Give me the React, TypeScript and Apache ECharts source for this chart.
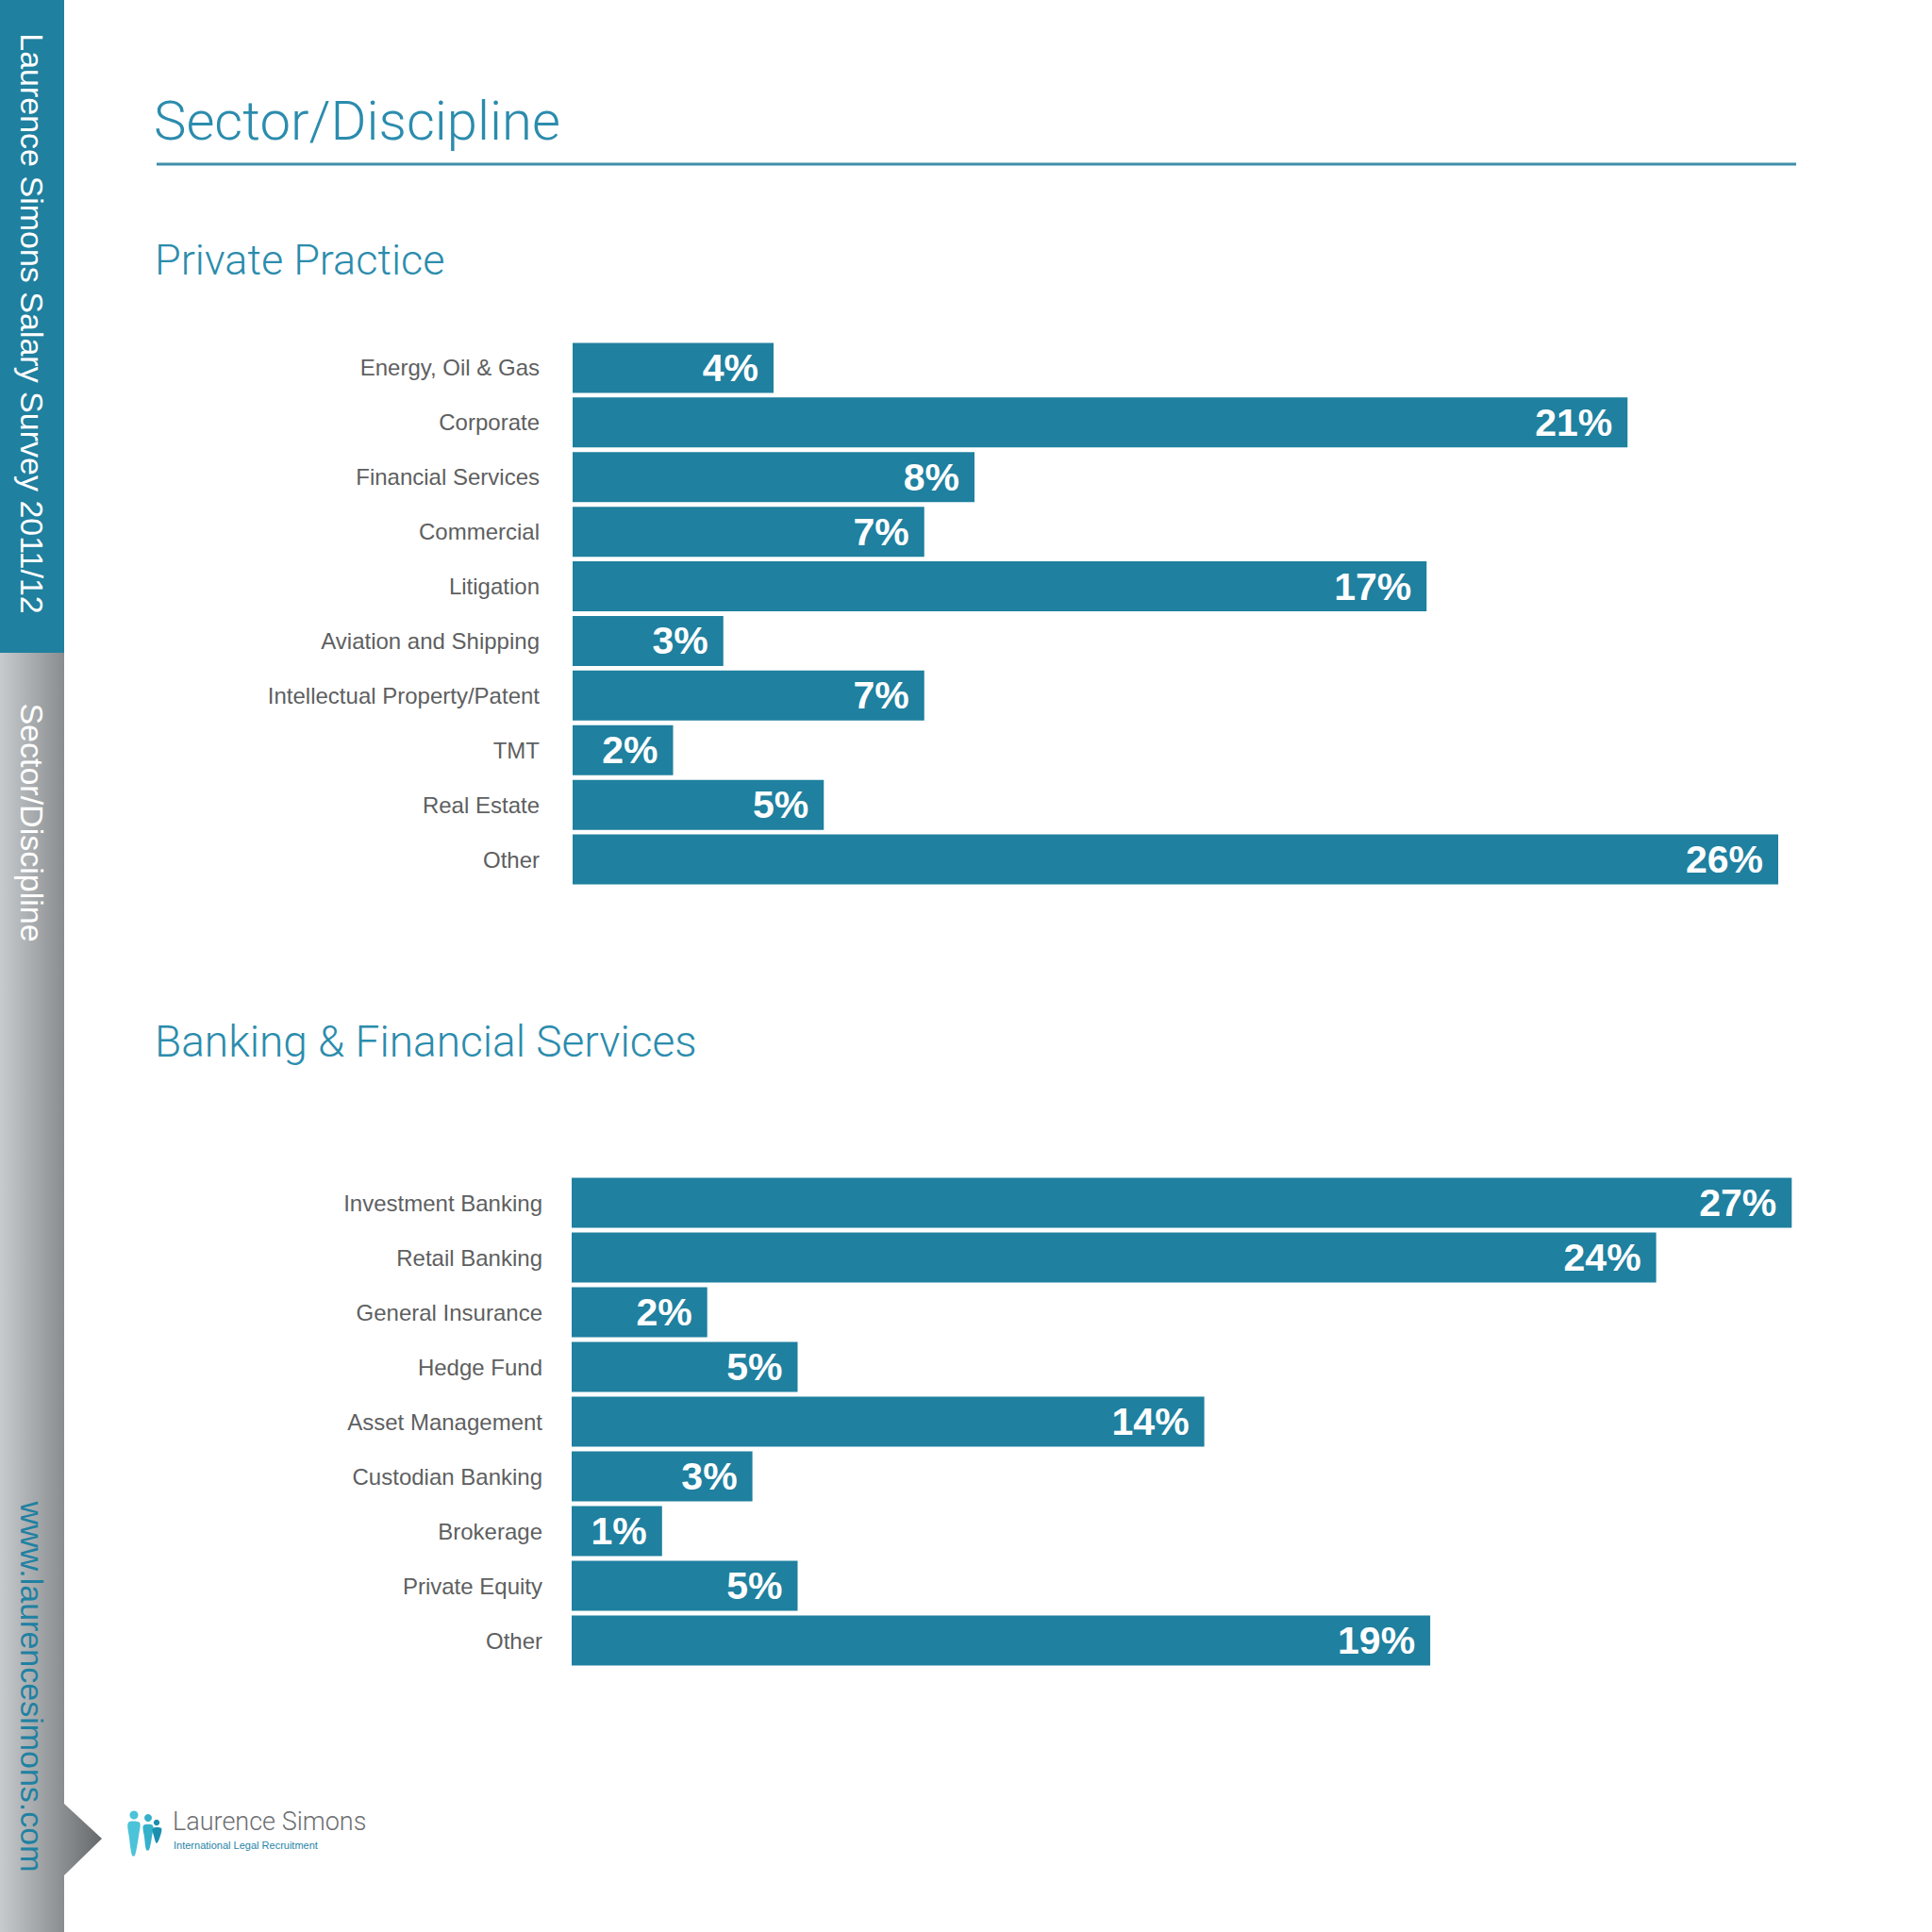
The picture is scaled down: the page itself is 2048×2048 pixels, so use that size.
import React, { useEffect, useRef } from "react";
import * as echarts from "echarts";

const ppCategories = [
  "Energy, Oil & Gas",
  "Corporate",
  "Financial Services",
  "Commercial",
  "Litigation",
  "Aviation and Shipping",
  "Intellectual Property/Patent",
  "TMT",
  "Real Estate",
  "Other",
];
const ppBarValues = [4, 21, 8, 7, 17, 3, 7, 2, 5, 24];
const ppLabels = ["4%", "21%", "8%", "7%", "17%", "3%", "7%", "2%", "5%", "26%"];

const bfCategories = [
  "Investment Banking",
  "Retail Banking",
  "General Insurance",
  "Hedge Fund",
  "Asset Management",
  "Custodian Banking",
  "Brokerage",
  "Private Equity",
  "Other",
];
const bfBarValues = [27, 24, 3, 5, 14, 4, 2, 5, 19];
const bfLabels = ["27%", "24%", "2%", "5%", "14%", "3%", "1%", "5%", "19%"];

const pageTitle = "Sector/Discipline";
const section1 = "Private Practice";
const section2 = "Banking & Financial Services";
const sideTitle = "Laurence Simons Salary Survey 2011/12";
const sideSection = "Sector/Discipline";
const sideUrl = "www.laurencesimons.com";
const logoName = "Laurence Simons";
const logoTag = "International Legal Recruitment";

const TEAL = "#1f809f";
const TITLE_TEAL = "#2b8cad";
const LABEL_GREY = "#5e5f61";
const SANS = "'Liberation Sans', Arial, Helvetica, sans-serif";
const LIGHT = "Roboto, 'Liberation Sans', sans-serif";

export default function App() {
  const ref = useRef<HTMLDivElement>(null);

  useEffect(() => {
    if (!ref.current) return;
    const chart = echarts.init(ref.current, null, { renderer: "svg" });

    const greyGrad = new echarts.graphic.LinearGradient(0, 0, 1, 0, [
      { offset: 0, color: "#c7cbcd" },
      { offset: 1, color: "#8a8d8f" },
    ]);
    const triGrad = new echarts.graphic.LinearGradient(0, 0, 1, 0, [
      { offset: 0, color: "#8a8d8f" },
      { offset: 1, color: "#66696b" },
    ]);

    const makeLabel = (labels: string[]) => ({
      show: true,
      position: "insideRight",
      distance: 16,
      color: "#ffffff",
      fontFamily: SANS,
      fontWeight: "bold",
      fontSize: 41,
      formatter: (p: any) => labels[p.dataIndex],
    });

    const option: any = {
      animation: false,
      backgroundColor: "#ffffff",
      grid: [
        { left: 607, top: 361, width: 26 * 53.25, height: 579 },
        { left: 606, top: 1246, width: 30 * 47.9, height: 522 },
      ],
      xAxis: [
        { type: "value", gridIndex: 0, min: 0, max: 26, show: false },
        { type: "value", gridIndex: 1, min: 0, max: 30, show: false },
      ],
      yAxis: [
        {
          type: "category",
          gridIndex: 0,
          data: ppCategories,
          inverse: true,
          axisLine: { show: false },
          axisTick: { show: false },
          axisLabel: {
            margin: 35,
            fontSize: 24,
            color: LABEL_GREY,
            fontFamily: SANS,
          },
        },
        {
          type: "category",
          gridIndex: 1,
          data: bfCategories,
          inverse: true,
          axisLine: { show: false },
          axisTick: { show: false },
          axisLabel: {
            margin: 31,
            fontSize: 24,
            color: LABEL_GREY,
            fontFamily: SANS,
          },
        },
      ],
      series: [
        {
          type: "bar",
          xAxisIndex: 0,
          yAxisIndex: 0,
          data: ppBarValues,
          barWidth: 53,
          itemStyle: { color: TEAL },
          label: makeLabel(ppLabels),
        },
        {
          type: "bar",
          xAxisIndex: 1,
          yAxisIndex: 1,
          data: bfBarValues,
          barWidth: 53,
          itemStyle: { color: TEAL },
          label: makeLabel(bfLabels),
        },
      ],
      graphic: [
        // sidebar
        { type: "rect", shape: { x: 0, y: 0, width: 68, height: 692 }, style: { fill: TEAL } },
        { type: "rect", shape: { x: 0, y: 692, width: 68, height: 1356 }, style: { fill: greyGrad } },
        {
          type: "polygon",
          shape: { points: [[68, 1912], [108, 1949], [68, 1988]] },
          style: { fill: triGrad },
        },
        {
          type: "text",
          x: 34,
          y: 343,
          rotation: -Math.PI / 2,
          style: {
            text: sideTitle,
            fill: "#ffffff",
            font: `34px ${SANS}`,
            textAlign: "center",
            textVerticalAlign: "middle",
          },
        },
        {
          type: "text",
          x: 34,
          y: 872,
          rotation: -Math.PI / 2,
          style: {
            text: sideSection,
            fill: "#ffffff",
            font: `34px ${SANS}`,
            textAlign: "center",
            textVerticalAlign: "middle",
          },
        },
        {
          type: "text",
          x: 34,
          y: 1788,
          rotation: -Math.PI / 2,
          style: {
            text: sideUrl,
            fill: "#1f81a2",
            font: `34px ${SANS}`,
            textAlign: "center",
            textVerticalAlign: "middle",
          },
        },
        // headings
        {
          type: "text",
          x: 163,
          y: 157,
          style: {
            text: pageTitle,
            fill: TITLE_TEAL,
            font: `300 58px ${LIGHT}`,
            textAlign: "left",
            textVerticalAlign: "bottom",
          },
        },
        {
          type: "line",
          shape: { x1: 166, y1: 174, x2: 1904, y2: 174 },
          style: { stroke: "#3f8eaa", lineWidth: 3 },
        },
        {
          type: "text",
          x: 164,
          y: 298,
          style: {
            text: section1,
            fill: TITLE_TEAL,
            font: `300 45px ${LIGHT}`,
            textAlign: "left",
            textVerticalAlign: "bottom",
          },
        },
        {
          type: "text",
          x: 164,
          y: 1127,
          style: {
            text: section2,
            fill: TITLE_TEAL,
            font: `300 46px ${LIGHT}`,
            textAlign: "left",
            textVerticalAlign: "bottom",
          },
        },
        // logo figures
        { type: "circle", shape: { cx: 142, cy: 1924, r: 4.5 }, style: { fill: "#4cc3d9" } },
        {
          type: "polygon",
          shape: {
            points: [[136, 1932], [148, 1932], [147, 1946], [143, 1967], [140, 1967], [137, 1948]],
            smooth: 0.3,
          },
          style: { fill: "#4cc3d9" },
        },
        { type: "circle", shape: { cx: 157, cy: 1927, r: 4 }, style: { fill: "#36b1cc" } },
        {
          type: "polygon",
          shape: {
            points: [[152, 1935], [162, 1935], [161, 1947], [158, 1961], [155, 1961], [153, 1947]],
            smooth: 0.3,
          },
          style: { fill: "#36b1cc" },
        },
        { type: "circle", shape: { cx: 166, cy: 1932, r: 3.2 }, style: { fill: "#1b8fb0" } },
        {
          type: "polygon",
          shape: {
            points: [[162, 1938], [171, 1938], [170, 1946], [166, 1954], [163, 1946]],
            smooth: 0.3,
          },
          style: { fill: "#1b8fb0" },
        },
        {
          type: "text",
          x: 183,
          y: 1944,
          style: {
            text: logoName,
            fill: "#6d6e71",
            font: `300 27px ${LIGHT}`,
            textAlign: "left",
            textVerticalAlign: "bottom",
          },
        },
        {
          type: "text",
          x: 184,
          y: 1956,
          style: {
            text: logoTag,
            fill: "#1f86a8",
            font: `11px ${SANS}`,
            textAlign: "left",
            textVerticalAlign: "middle",
          },
        },
      ],
    };

    chart.setOption(option);
    return () => chart.dispose();
  }, []);

  return (
    <div
      ref={ref}
      style={{ position: "absolute", left: 0, top: 0, width: 2048, height: 2048, background: "#fff" }}
    />
  );
}
